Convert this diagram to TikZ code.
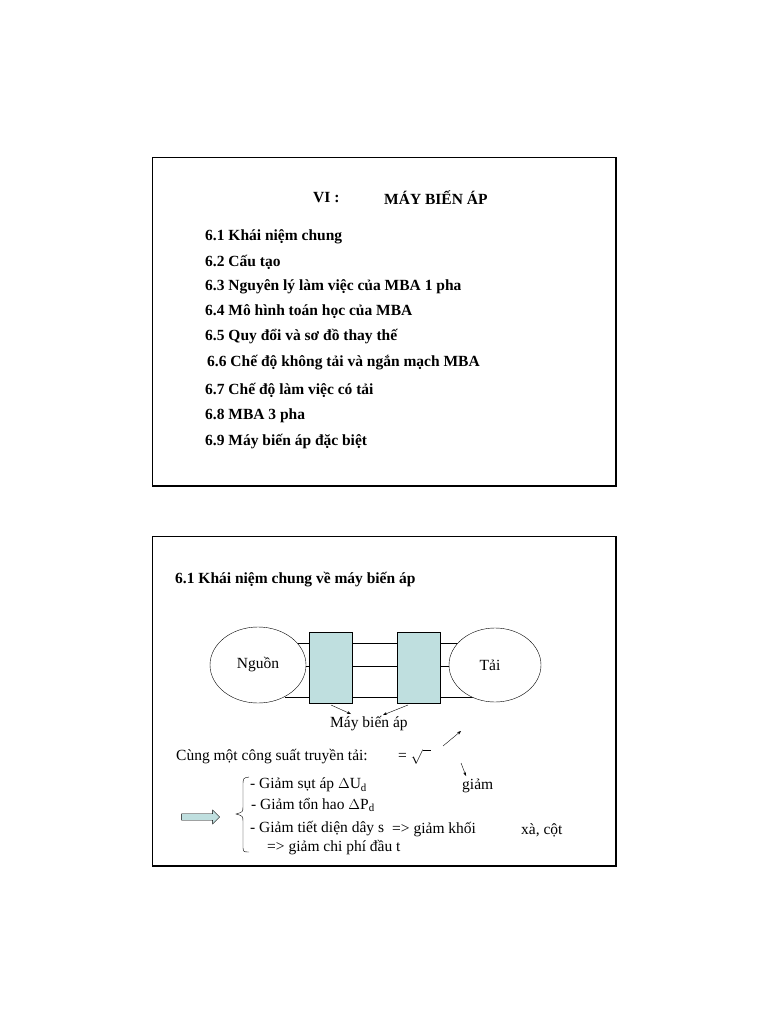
\documentclass[tikz,border=0pt]{standalone}
\usepackage{fontspec}
\setmainfont{Liberation Serif}
\usetikzlibrary{arrows.meta,shapes.arrows,shapes.geometric}
\begin{document}
\begin{tikzpicture}[x=1pt,y=-1pt,
  item/.style={anchor=west,font=\fontsize{15.5}{17}\selectfont\bfseries,inner sep=0},
  txt/.style={anchor=west,font=\fontsize{15.5}{17}\selectfont,inner sep=0},
  tbox/.style={draw,fill=teal!25!white},
  sm/.style={-{Stealth[length=4pt,width=3pt]},thin}]
\useasboundingbox (0,0) rectangle (768,1024);
\fill[white] (0,0) rectangle (768,1024);
% slide 1
\draw[line width=0.8] (152,157) rectangle (616,486);
\draw[line width=2] (153,486) -- (616,486) -- (616,158);
\node[item] (t1) at (313,198) {VI :};
\node[item] (t2) at (384,198) {MÁY BIẾN ÁP};
\node[item] (i1) at (205,237) {6.1 Khái niệm chung};
\node[item] (i2) at (205,262) {6.2 Cấu tạo};
\node[item] (i3) at (205,287) {6.3 Nguyên lý làm việc của MBA 1 pha};
\node[item] (i4) at (205,312) {6.4 Mô hình toán học của MBA};
\node[item] (i5) at (205,337) {6.5 Quy đổi và sơ đồ thay thế};
\node[item] (i6) at (207,363) {6.6 Chế độ không tải và ngắn mạch MBA};
\node[item] (i7) at (205,390) {6.7 Chế độ làm việc có tải};
\node[item] (i8) at (205,416) {6.8 MBA 3 pha};
\node[item] (i9) at (205,442) {6.9 Máy biến áp đặc biệt};
% slide 2
\draw[line width=0.8] (152,536) rectangle (616,866);
\draw[line width=2] (153,866) -- (616,866) -- (616,537);
\node[item] (h) at (175,580) {6.1 Khái niệm chung về máy biến áp};
\foreach \yy in {643,666,697} \draw (285,\yy) -- (490,\yy);
\node[draw,fill=white,ellipse,minimum width=96,minimum height=76,inner sep=0] (ng) at (258,665) {};
\node[font=\fontsize{15.5}{17}\selectfont] at (258,665) {Nguồn};
\node[draw,fill=white,ellipse,minimum width=92,minimum height=74,inner sep=0] (tai) at (495,665) {};
\node[font=\fontsize{15.5}{17}\selectfont] at (490,665) {Tải};
\node[tbox,minimum width=43,minimum height=71,inner sep=0] (b1) at (330.5,667.5) {};
\node[tbox,minimum width=43,minimum height=71,inner sep=0] (b2) at (418.5,667.5) {};
\node[txt] (mba) at (330,724) {Máy biến áp};
\draw[sm] (331,705) -- (351,714);
\draw[sm] (408,705) -- (383,715);
\node[txt] (c) at (176,757) {Cùng một công suất truyền tải:};
\node[txt] (eq) at (398,757) {= $\sqrt{\phantom{x}}$};
\draw[sm] (443,746) -- (461,731);
\draw[sm] (461,763) -- (466,776);
\node[txt] (gi) at (462,786) {giảm};
\node[txt] (l1) at (250,785) {- Giảm sụt áp $\Delta$U\textsubscript{d}};
\node[txt] (l2) at (251,805) {- Giảm tổn hao $\Delta$P\textsubscript{d}};
\node[txt] (l3) at (250,829) {- Giảm tiết diện dây s};
\node[txt] (l3b) at (392,830) {=> giảm khối};
\node[txt] (l3c) at (521,830) {xà, cột};
\node[txt] (l4) at (267,848) {=> giảm chi phí đầu t};
\draw[thin] (249,777) .. controls (243,778) .. (243,786) -- (243,806) .. controls (243,812) .. (236,814) .. controls (243,816) .. (243,822) -- (243,845) .. controls (243,852) .. (249,852);
\node[single arrow,draw,fill=teal!25!white,minimum height=38,minimum width=14,single arrow head extend=2,inner sep=1.5] (fa) at (199,817) {};
\end{tikzpicture}
\end{document}
